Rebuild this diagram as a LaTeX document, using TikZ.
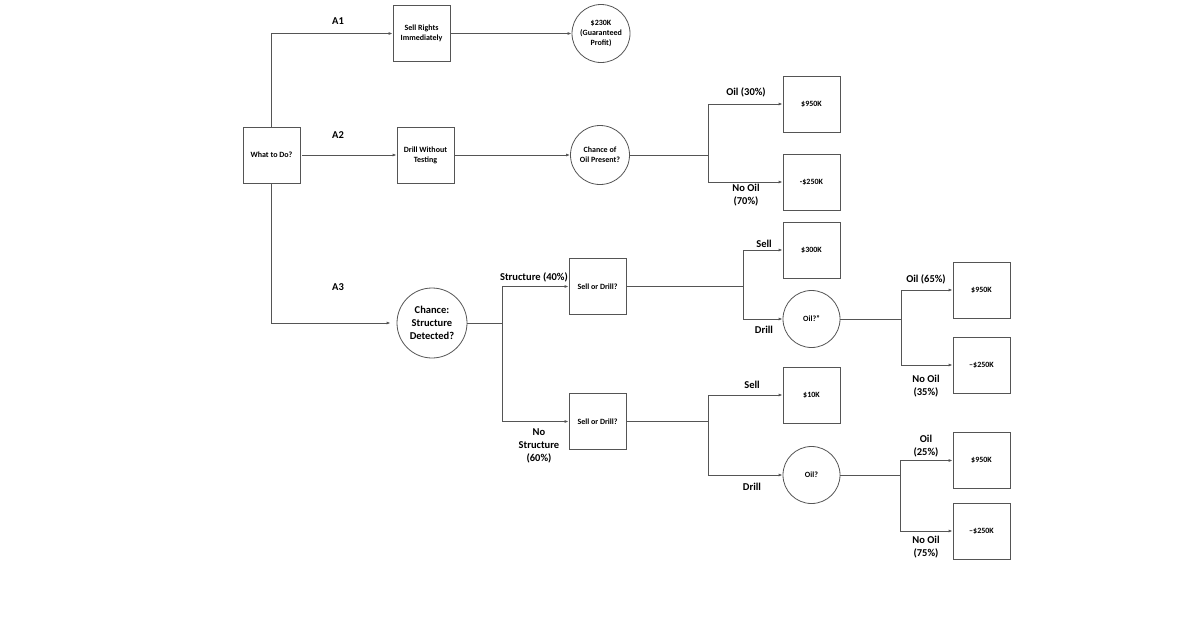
\documentclass[tikz,border=0pt]{standalone}
\usepackage{fontspec}
\setmainfont{Carlito}
\usetikzlibrary{arrows.meta}
\definecolor{linec}{HTML}{555555}
\newcommand\dtsmall{\fontsize{8}{10}\selectfont\bfseries}
\newcommand\dtlbl{\fontsize{10.5}{13}\selectfont\bfseries}
\tikzset{
 ln/.style={draw=linec, line width=0.8pt},
 arr/.style={ln, -{Latex[length=4pt,width=3pt]}},
 box/.style={draw=linec, line width=0.8pt, minimum width=57pt, minimum height=56pt, inner sep=1pt, align=center, font=\dtsmall},
 circ/.style={circle, draw=linec, line width=0.8pt, minimum size=57pt, inner sep=0pt, align=center, font=\dtsmall},
 lbl/.style={font=\dtlbl, align=center, inner sep=0pt},
}
\begin{document}
\begin{tikzpicture}[x=1pt,y=-1pt]
\useasboundingbox[fill=white] (0,0) rectangle (1200,619);
% nodes
\node[box] (what) at (271.5,155) {What to Do?};
\node[box] (sell) at (421.5,33.5) {Sell Rights\\Immediately};
\node[circ, minimum size=58pt] (g230) at (601,33.5) {\$230K\\(Guaranteed\\Profit)};
\node[box] (drill) at (425.5,155) {Drill Without\\Testing};
\node[circ, minimum size=59pt] (coil) at (600,155) {Chance of\\Oil Present?};
\node[box] (v950a) at (811.5,104) {\$950K};
\node[box] (v250a) at (811.5,182) {-\$250K};
\node[circ, minimum size=70pt, font=\dtlbl] (cstruct) at (432,323) {Chance:\\Structure\\Detected?};
\node[box] (sdup) at (597.5,286.5) {Sell or Drill?};
\node[box] (sdlo) at (597.5,421.5) {Sell or Drill?};
\node[box] (v300) at (811.5,250) {\$300K};
\node[circ] (oilup) at (811.5,319) {Oil?”};
\node[box] (v10) at (811.5,395) {\$10K};
\node[circ] (oillo) at (811.5,475) {Oil?};
\node[box] (v950b) at (981.5,290) {\$950K};
\node[box] (v250b) at (981.5,365) {–\$250K};
\node[box] (v950c) at (981.5,460.5) {\$950K};
\node[box] (v250c) at (981.5,531) {–\$250K};
% branch points
\coordinate (b2) at (708,155);
\coordinate (b3) at (502,323);
\coordinate (bup) at (743,286.5);
\coordinate (blo) at (708,421.5);
\coordinate (bou) at (901,319);
\coordinate (bol) at (900,475);
% connectors
\draw[arr] (what.north) |- (sell.west);
\draw[arr] ([xshift=2pt]what.east) -- (drill.west);
\draw[arr] (what.south) |- ([xshift=-6pt]cstruct.west);
\draw[arr] (sell.east) -- (g230.west);
\draw[arr] (drill.east) -- (coil.west);
\draw[ln] (coil.east) -- (b2);
\draw[arr] (b2) |- (v950a.west);
\draw[arr] (b2) |- (v250a.west);
\draw[ln] (cstruct.east) -- (b3);
\draw[arr] (b3) |- (sdup.west);
\draw[arr] (b3) |- (sdlo.west);
\draw[ln] (sdup.east) -- (bup);
\draw[arr] (bup) |- (v300.west);
\draw[arr] (bup) |- (oilup.west);
\draw[ln] (sdlo.east) -- (blo);
\draw[arr] (blo) |- (v10.west);
\draw[arr] (blo) |- (oillo.west);
\draw[ln] (oilup.east) -- (bou);
\draw[arr] (bou) |- (v950b.west);
\draw[arr] (bou) |- (v250b.west);
\draw[ln] (oillo.east) -- (bol);
\draw[arr] (bol) |- (v950c.west);
\draw[arr] (bol) |- (v250c.west);
% labels
\node[lbl] (la1) at (338,21) {A1};
\node[lbl] (la2) at (338,135) {A2};
\node[lbl] (la3) at (338,287) {A3};
\node[lbl] (loil30) at (746,92) {Oil (30\%)};
\node[lbl] (lno70) at (746,195.5) {No Oil\\(70\%)};
\node[lbl] (lstr) at (534,277) {Structure (40\%)};
\node[lbl] (lnostr) at (539,446) {No\\Structure\\(60\%)};
\node[lbl] (lsellu) at (764,244) {Sell};
\node[lbl] (ldrillu) at (764,330) {Drill};
\node[lbl] (lselll) at (752,385) {Sell};
\node[lbl] (ldrilll) at (752,487) {Drill};
\node[lbl] (loil65) at (926,279) {Oil (65\%)};
\node[lbl] (lno35) at (926,386) {No Oil\\(35\%)};
\node[lbl] (loil25) at (926,446.5) {Oil\\(25\%)};
\node[lbl] (lno75) at (926,547) {No Oil\\(75\%)};
\end{tikzpicture}
\end{document}
